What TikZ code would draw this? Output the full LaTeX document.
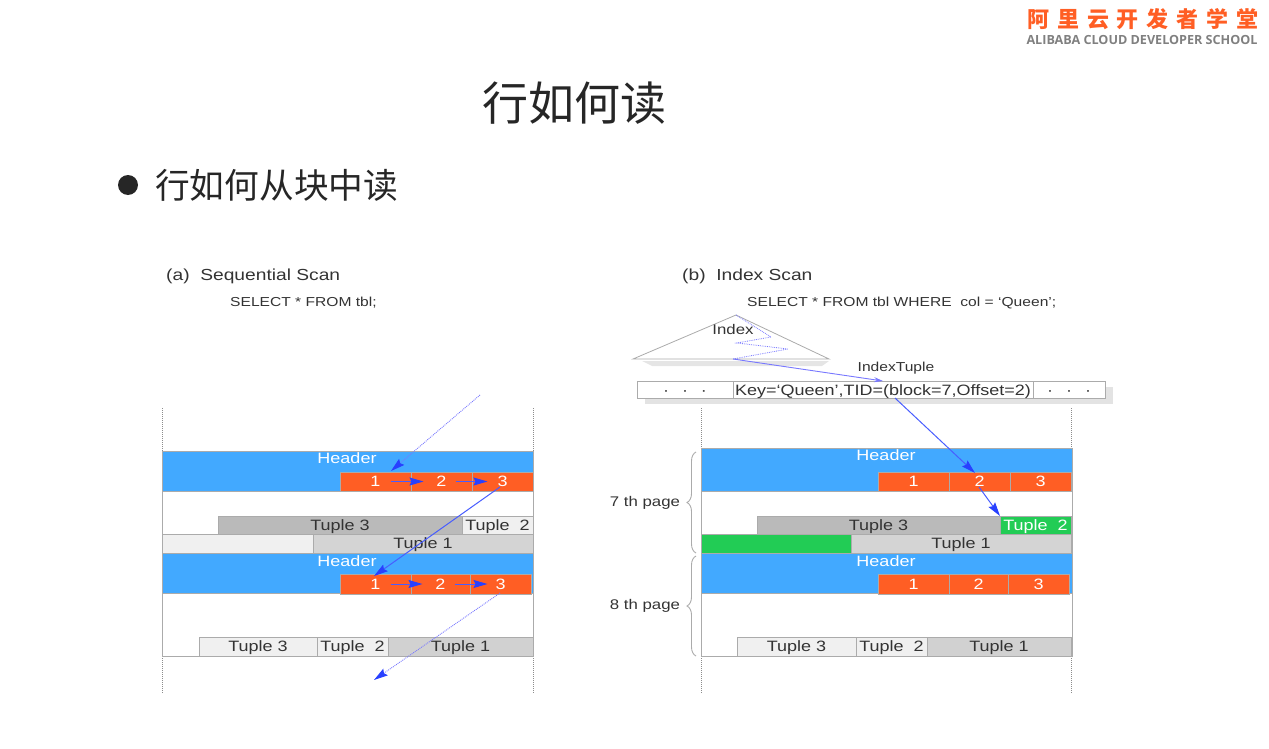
\documentclass[tikz,border=0pt]{standalone}
\usepackage{fontspec}
\setmainfont{Liberation Sans}[FakeStretch=1.2]
\newfontfamily\cjkfont{Noto Sans CJK SC}
\newfontfamily\logocjkfont{Noto Sans CJK SC}[LetterSpace=36]
\newfontfamily\logofont{Open Sans}
\usetikzlibrary{arrows.meta, positioning, calc, decorations, decorations.pathreplacing}
\definecolor{headblue}{HTML}{42A9FF}
\definecolor{cellorange}{HTML}{FF5E24}
\definecolor{tuplegreen}{HTML}{22CC55}
\definecolor{linegray}{HTML}{ABABAB}
\definecolor{textgray}{HTML}{333333}
\definecolor{arrowblue}{HTML}{2840FF}
\definecolor{paleblue}{HTML}{7878FF}
\tikzset{
	box/.style={rectangle, draw=linegray, line width=1pt, anchor=north west, inner sep=0pt, outer sep=0pt, text=textgray, text height=10pt, text depth=0pt, font=\fontsize{15}{17}\selectfont},
	headbox/.style={box, fill=headblue, minimum width=371pt, minimum height=40pt},
	cellbox/.style={box, fill=cellorange, text=white, minimum height=19pt},
	tuplebox/.style={box, minimum height=18.5pt},
	pagebox/.style={box, fill=white, minimum width=371pt, minimum height=103pt},
	headtext/.style={text=white, font=\fontsize{15}{17}\selectfont},
	plaintext/.style={text=textgray, inner sep=0pt, font=\fontsize{13}{15}\selectfont},
	boundary/.style={draw=black!45, densely dotted, line width=1pt},
	scanarrow/.style={-{Stealth[length=14pt, width=8pt, inset=2pt, color=arrowblue]}, draw=arrowblue!85!white, line width=1pt},
	skiparrow/.style={-{Stealth[length=14pt, width=8pt, inset=2pt, color=arrowblue]}, draw=paleblue, densely dotted, line width=0.9pt},
	pagebrace/.style={draw=linegray, line width=0.9pt, decorate, decoration={brace, amplitude=9pt}},
}
\begin{document}
\begin{tikzpicture}[x=1pt, y=-1pt]
	\useasboundingbox (0,0) rectangle (1269,749);
	% logo and titles
	\node[anchor=west, text=cellorange, inner sep=0pt, font=\fontsize{22}{25}\selectfont\logocjkfont\bfseries] (LogoCN) at (1027,19) {阿里云开发者学堂};
	\node[text=gray, inner sep=0pt, font=\fontsize{12.6}{14}\selectfont\logofont\bfseries] (LogoEN) at (1142,39.5) {ALIBABA CLOUD DEVELOPER SCHOOL};
	\node[text=black!85, inner sep=0pt, font=\fontsize{46}{50}\selectfont\cjkfont] (Title) at (574,103) {行如何读};
	\node[circle, fill=black!85, minimum size=20pt, inner sep=0pt] (Bullet) at (128,185) {};
	\node[text=black!85, inner sep=0pt, anchor=west, font=\fontsize{34.7}{38}\selectfont\cjkfont] (Item) at (155,185) {行如何从块中读};

	% sequential scan
	\node[plaintext, anchor=west, font=\fontsize{16}{18}\selectfont] (SeqTitle) at (166,276.5) {(a)\ \ Sequential Scan};
	\node[plaintext, anchor=west] (SeqQuery) at (230,303) {SELECT * FROM tbl;};
	\coordinate (SeqTop) at (162.5,408);
	\coordinate (SeqBot) at (162.5,693);
	\coordinate (SeqTopR) at (533,408);
	\coordinate (SeqBotR) at (533,693);
	\draw[boundary] (SeqTop) -- (SeqBot);
	\draw[boundary] (SeqTopR) -- (SeqBotR);

	\node[pagebox] (SeqPage1) at (162,451) {};
	\node[headbox] (SeqHead1) at (162,451) {};
	\node[headtext] (SeqHeadText1) at (347,458.5) {Header};
	\node[cellbox, minimum width=71pt] (SeqA1) at (340,472) {1};
	\node[cellbox, minimum width=61pt] (SeqA2) at (411,472) {2};
	\node[cellbox, minimum width=61pt] (SeqA3) at (472,472) {3};
	\node[tuplebox, fill=black!27, minimum width=244pt] (SeqT3) at (218,516) {Tuple 3};
	\node[tuplebox, fill=black!6, minimum width=71pt] (SeqT2) at (462,516) {Tuple\ \ 2};
	\node[tuplebox, fill=black!6, minimum width=151pt] (SeqFree) at (162,534.5) {};
	\node[tuplebox, fill=black!17, minimum width=220pt] (SeqT1) at (313,534.5) {Tuple 1};

	\node[pagebox] (SeqPage2) at (162,553.5) {};
	\node[headbox] (SeqHead2) at (162,553.5) {};
	\node[headtext] (SeqHeadText2) at (347,561.5) {Header};
	\node[cellbox, minimum width=71pt, minimum height=20pt] (SeqB1) at (340,574) {1};
	\node[cellbox, minimum width=59pt, minimum height=20pt] (SeqB2) at (411,574) {2};
	\node[cellbox, minimum width=61pt, minimum height=20pt] (SeqB3) at (470,574) {3};
	\node[tuplebox, fill=black!6, minimum width=118pt] (SeqU3) at (199,637.5) {Tuple 3};
	\node[tuplebox, fill=black!6, minimum width=71pt] (SeqU2) at (317,637.5) {Tuple\ \ 2};
	\node[tuplebox, fill=black!18, minimum width=145pt] (SeqU1) at (388,637.5) {Tuple 1};

	\coordinate (SeqIn) at (480,395);
	\coordinate (SeqHit1) at (391,471);
	\coordinate (SeqOut1) at (500,487);
	\coordinate (SeqHit2) at (374,576);
	\coordinate (SeqOut2) at (500,593);
	\coordinate (SeqEnd) at (374,680);
	\draw[skiparrow] (SeqIn) -- (SeqHit1);
	\draw[scanarrow, shorten <=15pt, shorten >=18pt] (SeqA1.center) -- (SeqA2.center);
	\draw[scanarrow, shorten <=14pt, shorten >=15pt] (SeqA2.center) -- (SeqA3.center);
	\draw[scanarrow] (SeqOut1) -- (SeqHit2);
	\draw[scanarrow, shorten <=15pt, shorten >=18pt] (SeqB1.center) -- (SeqB2.center);
	\draw[scanarrow, shorten <=14pt, shorten >=13pt] (SeqB2.center) -- (SeqB3.center);
	\draw[skiparrow] (SeqOut2) -- (SeqEnd);

	% index scan
	\node[plaintext, anchor=west, font=\fontsize{16}{18}\selectfont] (IdxTitle) at (682,276.5) {(b)\ \ Index Scan};
	\node[plaintext, anchor=west] (IdxQuery) at (747,303) {SELECT * FROM tbl WHERE\ \ col = ‘Queen’;};
	\fill[black!10] (642,361) -- (829,361) -- (822,366) -- (652,366) -- cycle;
	\draw[linegray, line width=0.8pt, fill=white] (736,315) -- (829,359) -- (633,359) -- cycle;
	\node[plaintext, font=\fontsize{14}{16}\selectfont] (IdxLabel) at (733,329.5) {Index};
	\coordinate (IdxRoot) at (736,315);
	\coordinate (IdxZ1) at (771,337);
	\coordinate (IdxZ2) at (737,343);
	\coordinate (IdxZ3) at (788,349);
	\coordinate (IdxLeaf) at (733,359);
	\draw[paleblue, densely dotted, line width=0.8pt] (IdxRoot) -- (IdxZ1) -- (IdxZ2) -- (IdxZ3) -- (IdxLeaf);
	\node[plaintext] (TupleLabel) at (896,368.5) {IndexTuple};

	\node[rectangle, fill=black!11, anchor=north west, minimum width=468pt, minimum height=17pt, inner sep=0pt] (KeyShadow) at (645,387) {};
	\node[tuplebox, fill=white, minimum width=96pt, minimum height=17pt] (KeyL) at (637,381.5) {·\hspace{13pt}·\hspace{13pt}·};
	\node[tuplebox, fill=white, minimum width=300pt, minimum height=17pt] (Key) at (733,381.5) {Key=‘Queen’,TID=(block=7,Offset=2)};
	\node[tuplebox, fill=white, minimum width=72pt, minimum height=17pt] (KeyR) at (1033,381.5) {·\hspace{13pt}·\hspace{13pt}·};
	\coordinate (KeyIn) at (883,381);
	\coordinate (KeyOut) at (895,398);
	\draw[-{Stealth[length=9pt, width=5pt]}, paleblue, line width=0.9pt] (IdxLeaf) -- (KeyIn);

	\coordinate (IdxTop) at (701,408);
	\coordinate (IdxBot) at (701,693);
	\coordinate (IdxTopR) at (1071.5,408);
	\coordinate (IdxBotR) at (1071.5,693);
	\draw[boundary] (IdxTop) -- (IdxBot);
	\draw[boundary] (IdxTopR) -- (IdxBotR);

	\node[pagebox, minimum height=105.5pt] (IdxPage1) at (701,448) {};
	\node[headbox, minimum height=43pt] (IdxHead1) at (701,448) {};
	\node[headtext] (IdxHeadText1) at (886,455.5) {Header};
	\node[cellbox, minimum width=71pt] (IdxA1) at (878,472) {1};
	\node[cellbox, minimum width=61pt] (IdxA2) at (949,472) {2};
	\node[cellbox, minimum width=61pt] (IdxA3) at (1010,472) {3};
	\node[tuplebox, fill=black!27, minimum width=243pt] (IdxT3) at (757,516) {Tuple 3};
	\node[tuplebox, fill=tuplegreen, text=white, minimum width=71pt] (IdxT2) at (1000,516) {Tuple\ \ 2};
	\node[tuplebox, fill=tuplegreen, minimum width=150pt] (IdxFree) at (701,534.5) {};
	\node[tuplebox, fill=black!17, minimum width=220pt] (IdxT1) at (851,534.5) {Tuple 1};

	\node[pagebox] (IdxPage2) at (701,553.5) {};
	\node[headbox] (IdxHead2) at (701,553.5) {};
	\node[headtext] (IdxHeadText2) at (886,561.5) {Header};
	\node[cellbox, minimum width=71pt, minimum height=20pt] (IdxB1) at (878,574) {1};
	\node[cellbox, minimum width=59pt, minimum height=20pt] (IdxB2) at (949,574) {2};
	\node[cellbox, minimum width=61pt, minimum height=20pt] (IdxB3) at (1008,574) {3};
	\node[tuplebox, fill=black!6, minimum width=119pt] (IdxU3) at (737,637.5) {Tuple 3};
	\node[tuplebox, fill=black!6, minimum width=71pt] (IdxU2) at (856,637.5) {Tuple\ \ 2};
	\node[tuplebox, fill=black!18, minimum width=144pt] (IdxU1) at (927,637.5) {Tuple 1};

	\coordinate (CellIn) at (975,473);
	\coordinate (CellOut) at (979,487);
	\draw[scanarrow] (KeyOut) -- (CellIn);
	\draw[scanarrow] (CellOut) -- (IdxT2.north west);

	\coordinate (BraceA) at (696,553);
	\coordinate (BraceB) at (696,452);
	\coordinate (BraceC) at (696,656);
	\coordinate (BraceD) at (696,556);
	\draw[pagebrace] (BraceA) -- (BraceB);
	\draw[pagebrace] (BraceC) -- (BraceD);
	\node[plaintext, font=\fontsize{14}{16}\selectfont] (Page7) at (645,503) {7 th page};
	\node[plaintext, font=\fontsize{14}{16}\selectfont] (Page8) at (645,606) {8 th page};
\end{tikzpicture}
\end{document}
